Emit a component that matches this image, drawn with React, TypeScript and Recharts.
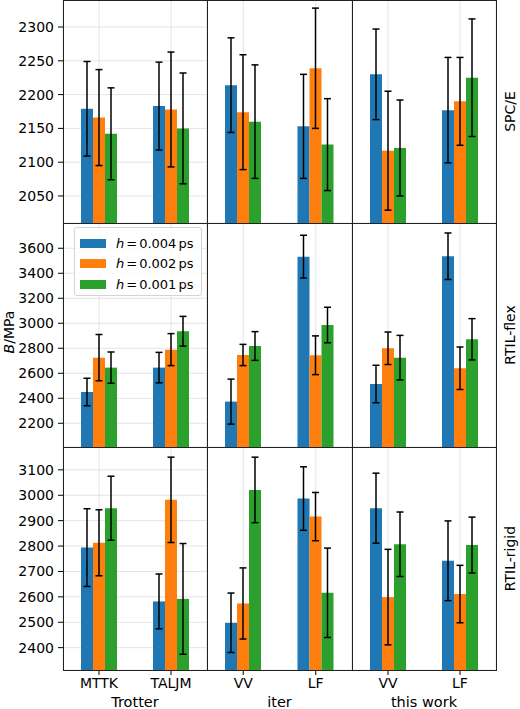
import React from "react";
import { BarChart, Bar, XAxis, YAxis, CartesianGrid, ErrorBar, Legend } from "recharts";

const FONT = "'DejaVu Sans', sans-serif";

const groups = ["Trotter", "iter", "this work"];
const categories = [["MTTK", "TALJM"], ["VV", "LF"], ["VV", "LF"]];
const models = ["SPC/E", "RTIL-flex", "RTIL-rigid"];
const steps = ["0.004", "0.002", "0.001"];
const colors = ["#1f77b4", "#ff7f0e", "#2ca02c"];

// bulk modulus B / MPa, order: MTTK, TALJM, iter VV, iter LF, this work VV, this work LF
const spceB004 = [2179, 2183, 2214, 2153, 2230, 2177];
const spceB002 = [2166, 2178, 2174, 2239, 2117, 2190];
const spceB001 = [2142, 2150, 2160, 2126, 2121, 2225];
const spceErr004 = [70, 65, 70, 77, 67, 78];
const spceErr002 = [71, 85, 85, 89, 88, 65];
const spceErr001 = [68, 82, 84, 68, 71, 87];

const flexB004 = [2450, 2645, 2373, 3533, 2514, 3536];
const flexB002 = [2725, 2789, 2746, 2744, 2800, 2640];
const flexB001 = [2645, 2936, 2818, 2986, 2725, 2872];
const flexErr004 = [110, 122, 180, 171, 150, 186];
const flexErr002 = [185, 128, 85, 155, 130, 170];
const flexErr001 = [125, 119, 115, 142, 178, 165];

const rigidB004 = [2794, 2582, 2498, 2987, 2949, 2742];
const rigidB002 = [2813, 2982, 2574, 2916, 2599, 2611];
const rigidB001 = [2949, 2592, 3021, 2616, 2807, 2804];
const rigidErr004 = [153, 108, 117, 125, 138, 157];
const rigidErr002 = [130, 168, 140, 95, 188, 113];
const rigidErr001 = [126, 218, 129, 176, 127, 110];

const yDomains = [[2010, 2340], [2010, 3802], [2312, 3190]];
const yTicks = [
  [2050, 2100, 2150, 2200, 2250, 2300],
  [2200, 2400, 2600, 2800, 3000, 3200, 3400, 3600],
  [2400, 2500, 2600, 2700, 2800, 2900, 3000, 3100],
];

const values = [
  [spceB004, spceB002, spceB001],
  [flexB004, flexB002, flexB001],
  [rigidB004, rigidB002, rigidB001],
];
const errors = [
  [spceErr004, spceErr002, spceErr001],
  [flexErr004, flexErr002, flexErr001],
  [rigidErr004, rigidErr002, rigidErr001],
];

function panelData(r: number, c: number) {
  return categories[c].map((cat, k) => {
    const i = c * 2 + k;
    return {
      cat,
      b0: values[r][0][i], b1: values[r][1][i], b2: values[r][2][i],
      e0: errors[r][0][i], e1: errors[r][1][i], e2: errors[r][2][i],
    };
  });
}

// layout
const colX = [63, 207, 352];
const colW = [144, 145, 144];
const rowY = [0, 223, 447];
const rowH = [223, 224, 223];
const AXIS_W = 63;
const TICK_W = 6;
const XAXIS_H = 39;
const SIDE_W = 24;

function YLabel({ viewBox }: any) {
  const x = viewBox.x + 9;
  const y = viewBox.y + viewBox.height / 2 - 3;
  return (
    <text x={x} y={y} transform={`rotate(-90 ${x} ${y})`} textAnchor="middle" dominantBaseline="central"
      fontSize={14} fontFamily={FONT} fill="#000">
      <tspan fontStyle="italic">B</tspan>/MPa
    </text>
  );
}

function ColLabel({ viewBox, text }: any) {
  return (
    <text x={viewBox.x + viewBox.width / 2} y={viewBox.y + viewBox.height - 2} textAnchor="middle"
      fontSize={14.5} fontFamily={FONT} fill="#000">
      {text}
    </text>
  );
}

function RowLabel({ viewBox, text }: any) {
  const x = viewBox.x + 14;
  const y = viewBox.y + viewBox.height / 2;
  return (
    <text x={x} y={y} transform={`rotate(-90 ${x} ${y})`} textAnchor="middle" dominantBaseline="central"
      fontSize={14} fontFamily={FONT} fill="#000">
      {text}
    </text>
  );
}

function LegendBox({ payload }: any) {
  const items = [...(payload || [])].sort((a: any, b: any) => steps.indexOf(a.value) - steps.indexOf(b.value));
  return (
    <div style={{
      boxSizing: "border-box", width: 128, height: 69, border: "1px solid #d4d4d4", borderRadius: 3,
      background: "rgba(255,255,255,0.8)", position: "relative", fontFamily: FONT, fontSize: 13, color: "#000",
    }}>
      {items.map((entry: any, i: number) => (
        <div key={i} style={{ position: "absolute", left: 5, top: 5 + i * 20.6, height: 20.6, display: "flex", alignItems: "center", whiteSpace: "nowrap" }}>
          <span style={{ display: "inline-block", width: 26, height: 9, background: entry.color, marginRight: 10 }} />
          <span>
            <i>h</i>
            <span style={{ margin: "0 2px" }}>=</span>
            {entry.value}
            <span style={{ marginLeft: 2 }}>ps</span>
          </span>
        </div>
      ))}
    </div>
  );
}

function Panel({ r, c }: { r: number; c: number }) {
  const first = c === 0;
  const last = c === 2;
  const bottom = r === 2;
  const yw = first ? AXIS_W : TICK_W;
  const width = yw + colW[c] + (last ? SIDE_W : 0);
  const height = rowH[r] + (bottom ? XAXIS_H : 0);
  return (
    <div style={{ position: "absolute", left: colX[c] - yw, top: rowY[r] }}>
      <BarChart width={width} height={height} data={panelData(r, c)} margin={{ top: 0, right: 0, left: 0, bottom: 0 }}
        barGap={0} barCategoryGap="25%">
        <CartesianGrid stroke="#dddddd" strokeWidth={0.8} />
        <XAxis dataKey="cat" hide={!bottom} height={XAXIS_H} interval={0} tickSize={5} tickMargin={3}
          axisLine={false} tickLine={{ stroke: "#000" }}
          tick={{ fill: "#000", fontSize: 14, fontFamily: FONT }}
          label={bottom ? <ColLabel text={groups[c]} /> : undefined} />
        <YAxis type="number" domain={yDomains[r]} allowDataOverflow ticks={yTicks[r]} interval={0} width={yw}
          tickSize={5} tickMargin={4} axisLine={false} tickLine={{ stroke: "#000" }}
          tick={first ? { fill: "#000", fontSize: 14, fontFamily: FONT } : false}
          label={first && r === 1 ? <YLabel /> : undefined} />
        {last && (
          <YAxis yAxisId="side" orientation="right" type="number" domain={[0, 1]} width={SIDE_W}
            tick={false} tickLine={false} axisLine={false} label={<RowLabel text={models[r]} />} />
        )}
        {colors.map((col, k) => (
          <Bar key={k} dataKey={`b${k}`} name={steps[k]} fill={col} barSize={12} isAnimationActive={false}>
            <ErrorBar dataKey={`e${k}`} direction="y" width={3.5} strokeWidth={1.5} stroke="#000" isAnimationActive={false} />
          </Bar>
        ))}
        {r === 1 && c === 0 && (
          <Legend content={<LegendBox />} layout="vertical" align="center" verticalAlign="middle"
            wrapperStyle={{ left: 74, top: 4, width: 128, height: 69 }} />
        )}
      </BarChart>
    </div>
  );
}

export default function App() {
  const cells: [number, number][] = [];
  for (let r = 0; r < 3; r++) for (let c = 0; c < 3; c++) cells.push([r, c]);
  return (
    <div style={{ position: "absolute", left: 0, top: 0, width: 520, height: 709, background: "#fff", fontFamily: FONT }}>
      {cells.map(([r, c]) => <Panel key={`p${r}${c}`} r={r} c={c} />)}
      {cells.map(([r, c]) => (
        <div key={`f${r}${c}`} style={{
          position: "absolute", left: colX[c], top: rowY[r], width: colW[c] + 1, height: rowH[r] + 1,
          border: "1px solid #222", boxSizing: "border-box", pointerEvents: "none",
        }} />
      ))}
    </div>
  );
}
